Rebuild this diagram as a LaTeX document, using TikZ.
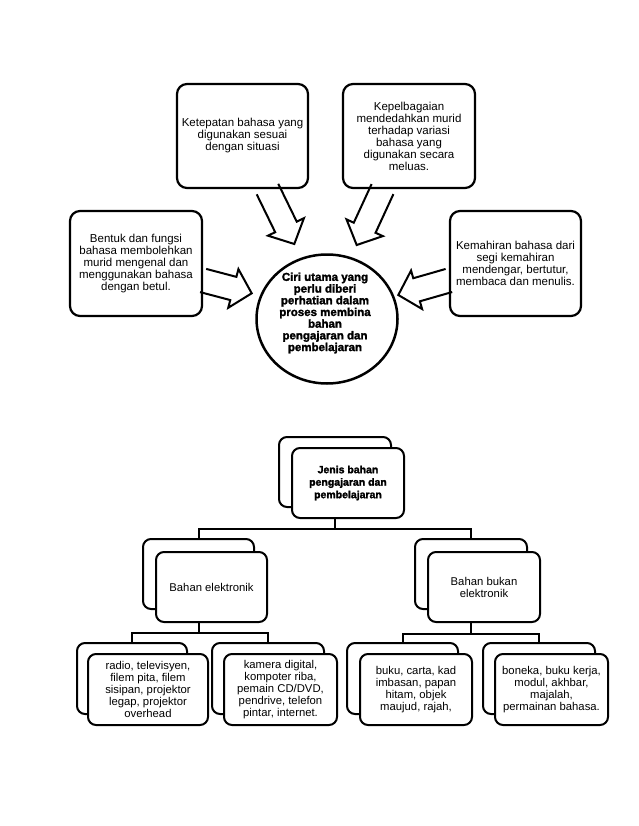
\documentclass[tikz,border=0pt]{standalone}
\usepackage{fontspec}
\setmainfont{Liberation Sans}
\newfontfamily\heavyfont[FakeBold=2]{Liberation Sans Bold}
\usetikzlibrary{calc,shapes.geometric}
\newcommand{\blockarr}[3]{%
  \coordinate (#3n) at ($(#2)!19pt!(#1)$);
  \draw[blockarrow] ($(#1)!12pt!90:(#2)$) -- ($(#3n)!12pt!90:(#2)$) -- ($(#3n)!20pt!90:(#2)$) -- (#2)
    -- ($(#3n)!20pt!-90:(#2)$) -- ($(#3n)!12pt!-90:(#2)$) -- ($(#1)!12pt!-90:(#2)$);
}
\begin{document}
\begin{tikzpicture}[x=1pt,y=-1pt,
  topbox/.style={draw, line width=2.2pt, rounded corners=10pt, align=center, inner sep=0pt,
    font=\fontsize{11.5}{12}\selectfont},
  bbox/.style={draw, line width=2pt, rounded corners=8pt, fill=white, align=center, inner sep=0pt,
    minimum height=71pt, font=\fontsize{11.3}{12}\selectfont},
  conn/.style={line width=2pt},
  blockarrow/.style={line width=2pt, line join=miter}]
\useasboundingbox (0,0) rectangle (638,826);
\fill[white] (0,0) rectangle (638,826);

% ---------- top part ----------
\node[topbox, minimum width=131pt, minimum height=104pt] (ket) at (242.5,136)
  {Ketepatan bahasa yang\\digunakan sesuai\\dengan situasi};
\node[topbox, minimum width=132pt, minimum height=104pt] (kep) at (409,136)
  {Kepelbagaian\\mendedahkan murid\\terhadap variasi\\bahasa yang\\digunakan secara\\meluas.};
\node[topbox, minimum width=132pt, minimum height=105pt] (ben) at (136,263.5)
  {Bentuk dan fungsi\\bahasa membolehkan\\murid mengenal dan\\menggunakan bahasa\\dengan betul.};
\node[topbox, minimum width=131pt, minimum height=105pt] (kem) at (515.5,263.5)
  {Kemahiran bahasa dari\\segi kemahiran\\mendengar, bertutur,\\membaca dan menulis.};
\node[draw, ellipse, line width=2.5pt, minimum width=141pt, minimum height=129pt, inner sep=0pt] (cir) at (327,319) {};
\node[align=center, inner sep=0pt, font=\heavyfont\fontsize{11.5}{11.7}\selectfont] (cirtext) at (325,313)
  {Ciri utama yang\\perlu diberi\\perhatian dalam\\proses membina\\bahan\\pengajaran dan\\pembelajaran};

\coordinate (aS) at ($(ket.south)+(25,0)$);
\coordinate (aT) at ($(cir.center)+(-32.7,-75)$);
\coordinate (bS) at ($(kep.south)+(-26.5,0)$);
\coordinate (bT) at ($(cir.center)+(29.7,-74)$);
\coordinate (cS) at ($(ben.east)+(0,17)$);
\coordinate (cT) at ($(cir.center)+(-75.3,-25.7)$);
\coordinate (dS) at ($(kem.west)+(0,17)$);
\coordinate (dT) at ($(cir.center)+(71.3,-24)$);
\blockarr{aS}{aT}{ar}
\blockarr{bS}{bT}{br}
\blockarr{cS}{cT}{cr}
\blockarr{dS}{dT}{dr}

% ---------- bottom part ----------
\node[bbox, minimum width=112pt, minimum height=70pt] (jenisB) at (335,472) {};
\node[bbox, minimum width=112pt, minimum height=70pt, font=\heavyfont\fontsize{10.5}{12.5}\selectfont] (jenisF) at (348,483)
  {Jenis bahan\\pengajaran dan\\pembelajaran};

\node[bbox, minimum width=111pt, minimum height=70pt] (elB) at (198.5,574) {};
\node[bbox, minimum width=111pt, minimum height=70pt] (elF) at (211.5,587) {Bahan elektronik};
\node[bbox, minimum width=112pt, minimum height=70pt] (bkB) at (471,574) {};
\node[bbox, minimum width=112pt, minimum height=70pt, font=\fontsize{11.3}{12}\selectfont] (bkF) at (484,587) {Bahan bukan\\elektronik};

\node[bbox, minimum width=110pt] (radioB) at (132,678.5) {};
\node[bbox, minimum width=120pt] (radioF) at (148,689.5)
  {radio, televisyen,\\filem pita, filem\\sisipan, projektor\\legap, projektor\\overhead};
\node[bbox, minimum width=112pt] (kamB) at (268,678.5) {};
\node[bbox, minimum width=113pt] (kamF) at (280.5,689.5)
  {kamera digital,\\kompoter riba,\\pemain CD/DVD,\\pendrive, telefon\\pintar, internet.};
\node[bbox, minimum width=111pt] (bukuB) at (402.5,678.5) {};
\node[bbox, minimum width=112pt] (bukuF) at (416,689.5)
  {buku, carta, kad\\imbasan, papan\\hitam, objek\\maujud, rajah,};
\node[bbox, minimum width=112pt] (bonB) at (539,678.5) {};
\node[bbox, minimum width=113pt] (bonF) at (551.5,689.5)
  {boneka, buku kerja,\\modul, akhbar,\\majalah,\\permainan bahasa.};

\coordinate (j1) at ($(jenisB.center |- jenisF.south)+(0,10)$);
\draw[conn] (jenisB.center |- jenisF.south) -- (j1);
\draw[conn] (elB.north) |- (j1) -| (bkB.north);
\coordinate (e1) at ($(elB.center |- elF.south)+(0,10)$);
\draw[conn] (elB.center |- elF.south) -- (e1);
\draw[conn] (radioB.north) |- (e1) -| (kamB.north);
\coordinate (b1) at ($(bkB.center |- bkF.south)+(0,11)$);
\draw[conn] (bkB.center |- bkF.south) -- (b1);
\draw[conn] (bukuB.north) |- (b1) -| (bonB.north);
\end{tikzpicture}
\end{document}
